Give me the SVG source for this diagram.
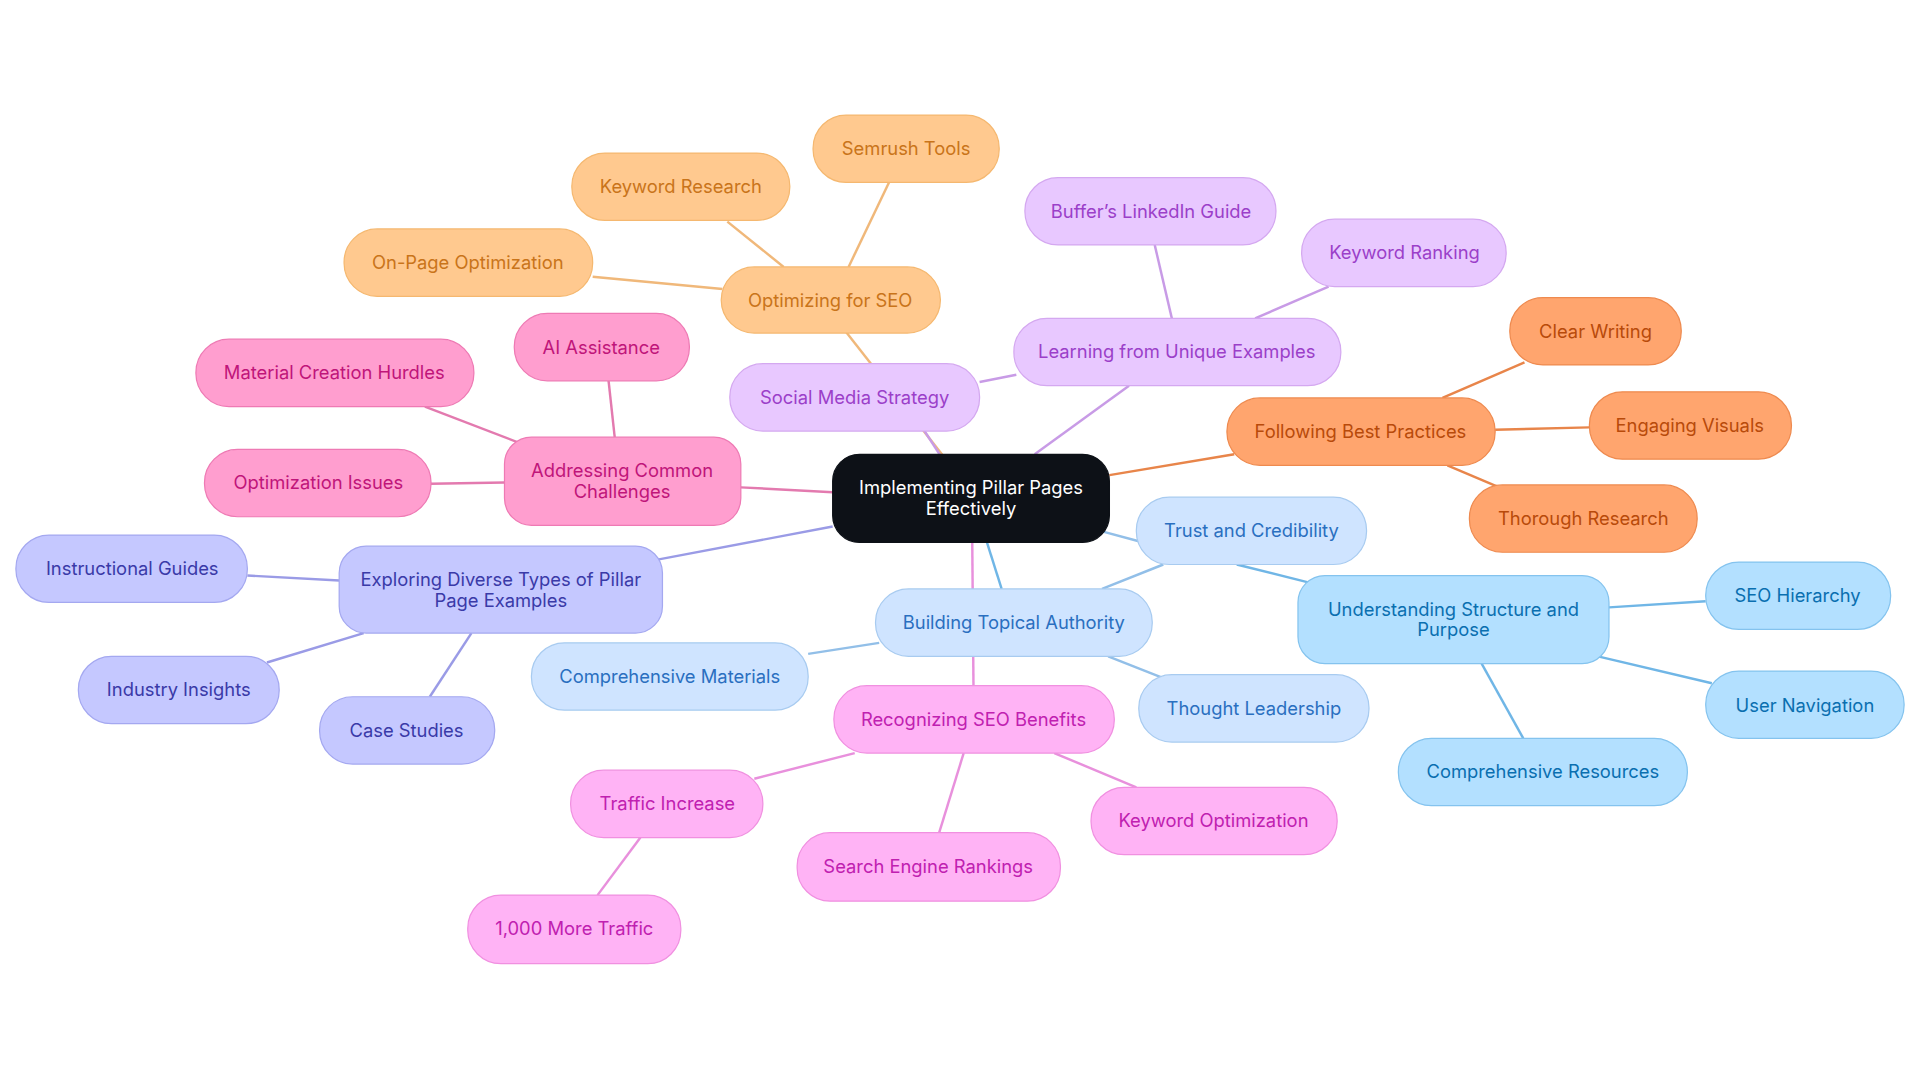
<svg xmlns="http://www.w3.org/2000/svg" width="1920" height="1083" viewBox="0 0 1920 1083">
<style>
text{font-family:Inter,"Noto Sans",sans-serif;font-size:15px;text-anchor:middle;dominant-baseline:central}
line{stroke-width:2}
rect{stroke-width:1}
.c0 rect{fill:#0d1117;stroke:#0d1117}.c0 text{fill:#fff}
.o rect{fill:#ffc98f;stroke:#f5b870}.o text{fill:#c9741a}
.p rect{fill:#e8c8ff;stroke:#d4a8f0}.p text{fill:#9b3fc9}
.d rect{fill:#ffa56e;stroke:#ee8a4f}.d text{fill:#b84a0a}
.k rect{fill:#ff9ecf;stroke:#ee7ab4}.k text{fill:#c0157a}
.l rect{fill:#c5c8ff;stroke:#a4a8f0}.l text{fill:#3a3aa8}
.b rect{fill:#cfe4ff;stroke:#a8cbf0}.b text{fill:#2a6fc0}
.s rect{fill:#b3e0ff;stroke:#84c3ee}.s text{fill:#0a6fb0}
.m rect{fill:#ffb3f5;stroke:#f090e0}.m text{fill:#c020b0}
</style>
<rect width="1920" height="1083" fill="#fff"/>
<g transform="scale(1.2245)">
<g id="connectors">
<g stroke="#f0b87a"><line x1="690" y1="270" x2="770" y2="372"/><line x1="594" y1="181" x2="640" y2="218"/><line x1="726" y1="149" x2="693" y2="218"/><line x1="484" y1="226" x2="590" y2="236"/></g>
<g stroke="#c89be6"><line x1="845" y1="371" x2="922" y2="315"/><line x1="800" y1="312" x2="830" y2="306"/><line x1="943" y1="200" x2="957" y2="260"/><line x1="1085" y1="234" x2="1025" y2="260"/><line x1="755" y1="352" x2="768" y2="372"/></g>
<g stroke="#e8854a"><line x1="906" y1="388" x2="1008" y2="371"/><line x1="1178" y1="325" x2="1245" y2="296"/><line x1="1221" y1="351" x2="1298" y2="349"/><line x1="1182" y1="380" x2="1222" y2="397"/></g>
<g stroke="#e37aaf"><line x1="605" y1="398" x2="680" y2="402"/><line x1="497" y1="311" x2="502" y2="357"/><line x1="347" y1="332" x2="425" y2="362"/><line x1="352" y1="395" x2="412" y2="394"/></g>
<g stroke="#9a9be6"><line x1="680" y1="430" x2="537" y2="457"/><line x1="202" y1="470" x2="277" y2="474"/><line x1="218" y1="541" x2="297" y2="517"/><line x1="351" y1="569" x2="385" y2="517"/></g>
<g stroke="#92bfe8"><line x1="900" y1="434" x2="930" y2="442"/><line x1="950" y1="461" x2="900" y2="481"/><line x1="660" y1="534" x2="718" y2="525"/><line x1="905" y1="536" x2="948" y2="553"/></g>
<g stroke="#70b6e6"><line x1="806" y1="443" x2="818" y2="481"/><line x1="1010" y1="461" x2="1070" y2="476"/><line x1="1314" y1="496" x2="1393" y2="491"/><line x1="1305" y1="536" x2="1398" y2="558"/><line x1="1210" y1="542" x2="1244" y2="603"/></g>
<g stroke="#e890dc"><line x1="794" y1="443" x2="795" y2="560"/><line x1="698" y1="615" x2="616" y2="636"/><line x1="787" y1="615" x2="767" y2="680"/><line x1="861" y1="615" x2="928" y2="643"/><line x1="523" y1="684" x2="488" y2="731"/></g>
</g>
<g id="center" class="c0"><rect x="680" y="371" width="226" height="72" rx="22"/><text x="793" y="398">Implementing Pillar Pages</text><text x="793" y="415">Effectively</text></g>
<g id="opt" class="o"><rect x="589" y="218" width="179" height="54" rx="27"/><text x="678" y="245">Optimizing for SEO</text></g>
<g id="kr" class="o"><rect x="467" y="125" width="178" height="55" rx="27"/><text x="556" y="152">Keyword Research</text></g>
<g id="sem" class="o"><rect x="664" y="94" width="152" height="55" rx="27"/><text x="740" y="121">Semrush Tools</text></g>
<g id="onp" class="o"><rect x="281" y="187" width="203" height="55" rx="27"/><text x="382" y="214">On-Page Optimization</text></g>
<g id="sms" class="p"><rect x="596" y="297" width="204" height="55" rx="27"/><text x="698" y="324">Social Media Strategy</text></g>
<g id="lue" class="p"><rect x="828" y="260" width="267" height="55" rx="27"/><text x="961" y="287">Learning from Unique Examples</text></g>
<g id="buf" class="p"><rect x="837" y="145" width="205" height="55" rx="27"/><text x="940" y="172">Buffer’s LinkedIn Guide</text></g>
<g id="krank" class="p"><rect x="1063" y="179" width="167" height="55" rx="27"/><text x="1147" y="206">Keyword Ranking</text></g>
<g id="fbp" class="d"><rect x="1002" y="325" width="219" height="55" rx="27"/><text x="1111" y="352">Following Best Practices</text></g>
<g id="cw" class="d"><rect x="1233" y="243" width="140" height="55" rx="27"/><text x="1303" y="270">Clear Writing</text></g>
<g id="ev" class="d"><rect x="1298" y="320" width="165" height="55" rx="27"/><text x="1380" y="347">Engaging Visuals</text></g>
<g id="tr" class="d"><rect x="1200" y="396" width="186" height="55" rx="27"/><text x="1293" y="423">Thorough Research</text></g>
<g id="acc" class="k"><rect x="412" y="357" width="193" height="72" rx="22"/><text x="508" y="384">Addressing Common</text><text x="508" y="401">Challenges</text></g>
<g id="ai" class="k"><rect x="420" y="256" width="143" height="55" rx="27"/><text x="491" y="283">AI Assistance</text></g>
<g id="mch" class="k"><rect x="160" y="277" width="227" height="55" rx="27"/><text x="273" y="304">Material Creation Hurdles</text></g>
<g id="oi" class="k"><rect x="167" y="367" width="185" height="55" rx="27"/><text x="260" y="394">Optimization Issues</text></g>
<g id="edt" class="l"><rect x="277" y="446" width="264" height="71" rx="22"/><text x="409" y="473">Exploring Diverse Types of Pillar</text><text x="409" y="490">Page Examples</text></g>
<g id="ig" class="l"><rect x="13" y="437" width="189" height="55" rx="27"/><text x="108" y="464">Instructional Guides</text></g>
<g id="ii" class="l"><rect x="64" y="536" width="164" height="55" rx="27"/><text x="146" y="563">Industry Insights</text></g>
<g id="cs" class="l"><rect x="261" y="569" width="143" height="55" rx="27"/><text x="332" y="596">Case Studies</text></g>
<g id="tc" class="b"><rect x="928" y="406" width="188" height="55" rx="27"/><text x="1022" y="433">Trust and Credibility</text></g>
<g id="bta" class="b"><rect x="715" y="481" width="226" height="55" rx="27"/><text x="828" y="508">Building Topical Authority</text></g>
<g id="cm" class="b"><rect x="434" y="525" width="226" height="55" rx="27"/><text x="547" y="552">Comprehensive Materials</text></g>
<g id="tl" class="b"><rect x="930" y="551" width="188" height="55" rx="27"/><text x="1024" y="578">Thought Leadership</text></g>
<g id="usp" class="s"><rect x="1060" y="470" width="254" height="72" rx="22"/><text x="1187" y="497">Understanding Structure and</text><text x="1187" y="514">Purpose</text></g>
<g id="seoh" class="s"><rect x="1393" y="459" width="151" height="55" rx="27"/><text x="1468" y="486">SEO Hierarchy</text></g>
<g id="un" class="s"><rect x="1393" y="548" width="162" height="55" rx="27"/><text x="1474" y="576">User Navigation</text></g>
<g id="cr" class="s"><rect x="1142" y="603" width="236" height="55" rx="27"/><text x="1260" y="630">Comprehensive Resources</text></g>
<g id="rsb" class="m"><rect x="681" y="560" width="229" height="55" rx="27"/><text x="795" y="587">Recognizing SEO Benefits</text></g>
<g id="ti" class="m"><rect x="466" y="629" width="157" height="55" rx="27"/><text x="545" y="656">Traffic Increase</text></g>
<g id="ser" class="m"><rect x="651" y="680" width="215" height="56" rx="27"/><text x="758" y="707">Search Engine Rankings</text></g>
<g id="ko" class="m"><rect x="891" y="643" width="201" height="55" rx="27"/><text x="991" y="670">Keyword Optimization</text></g>
<g id="mt" class="m"><rect x="382" y="731" width="174" height="56" rx="27"/><text x="469" y="758">1,000 More Traffic</text></g>
</g>
</svg>
